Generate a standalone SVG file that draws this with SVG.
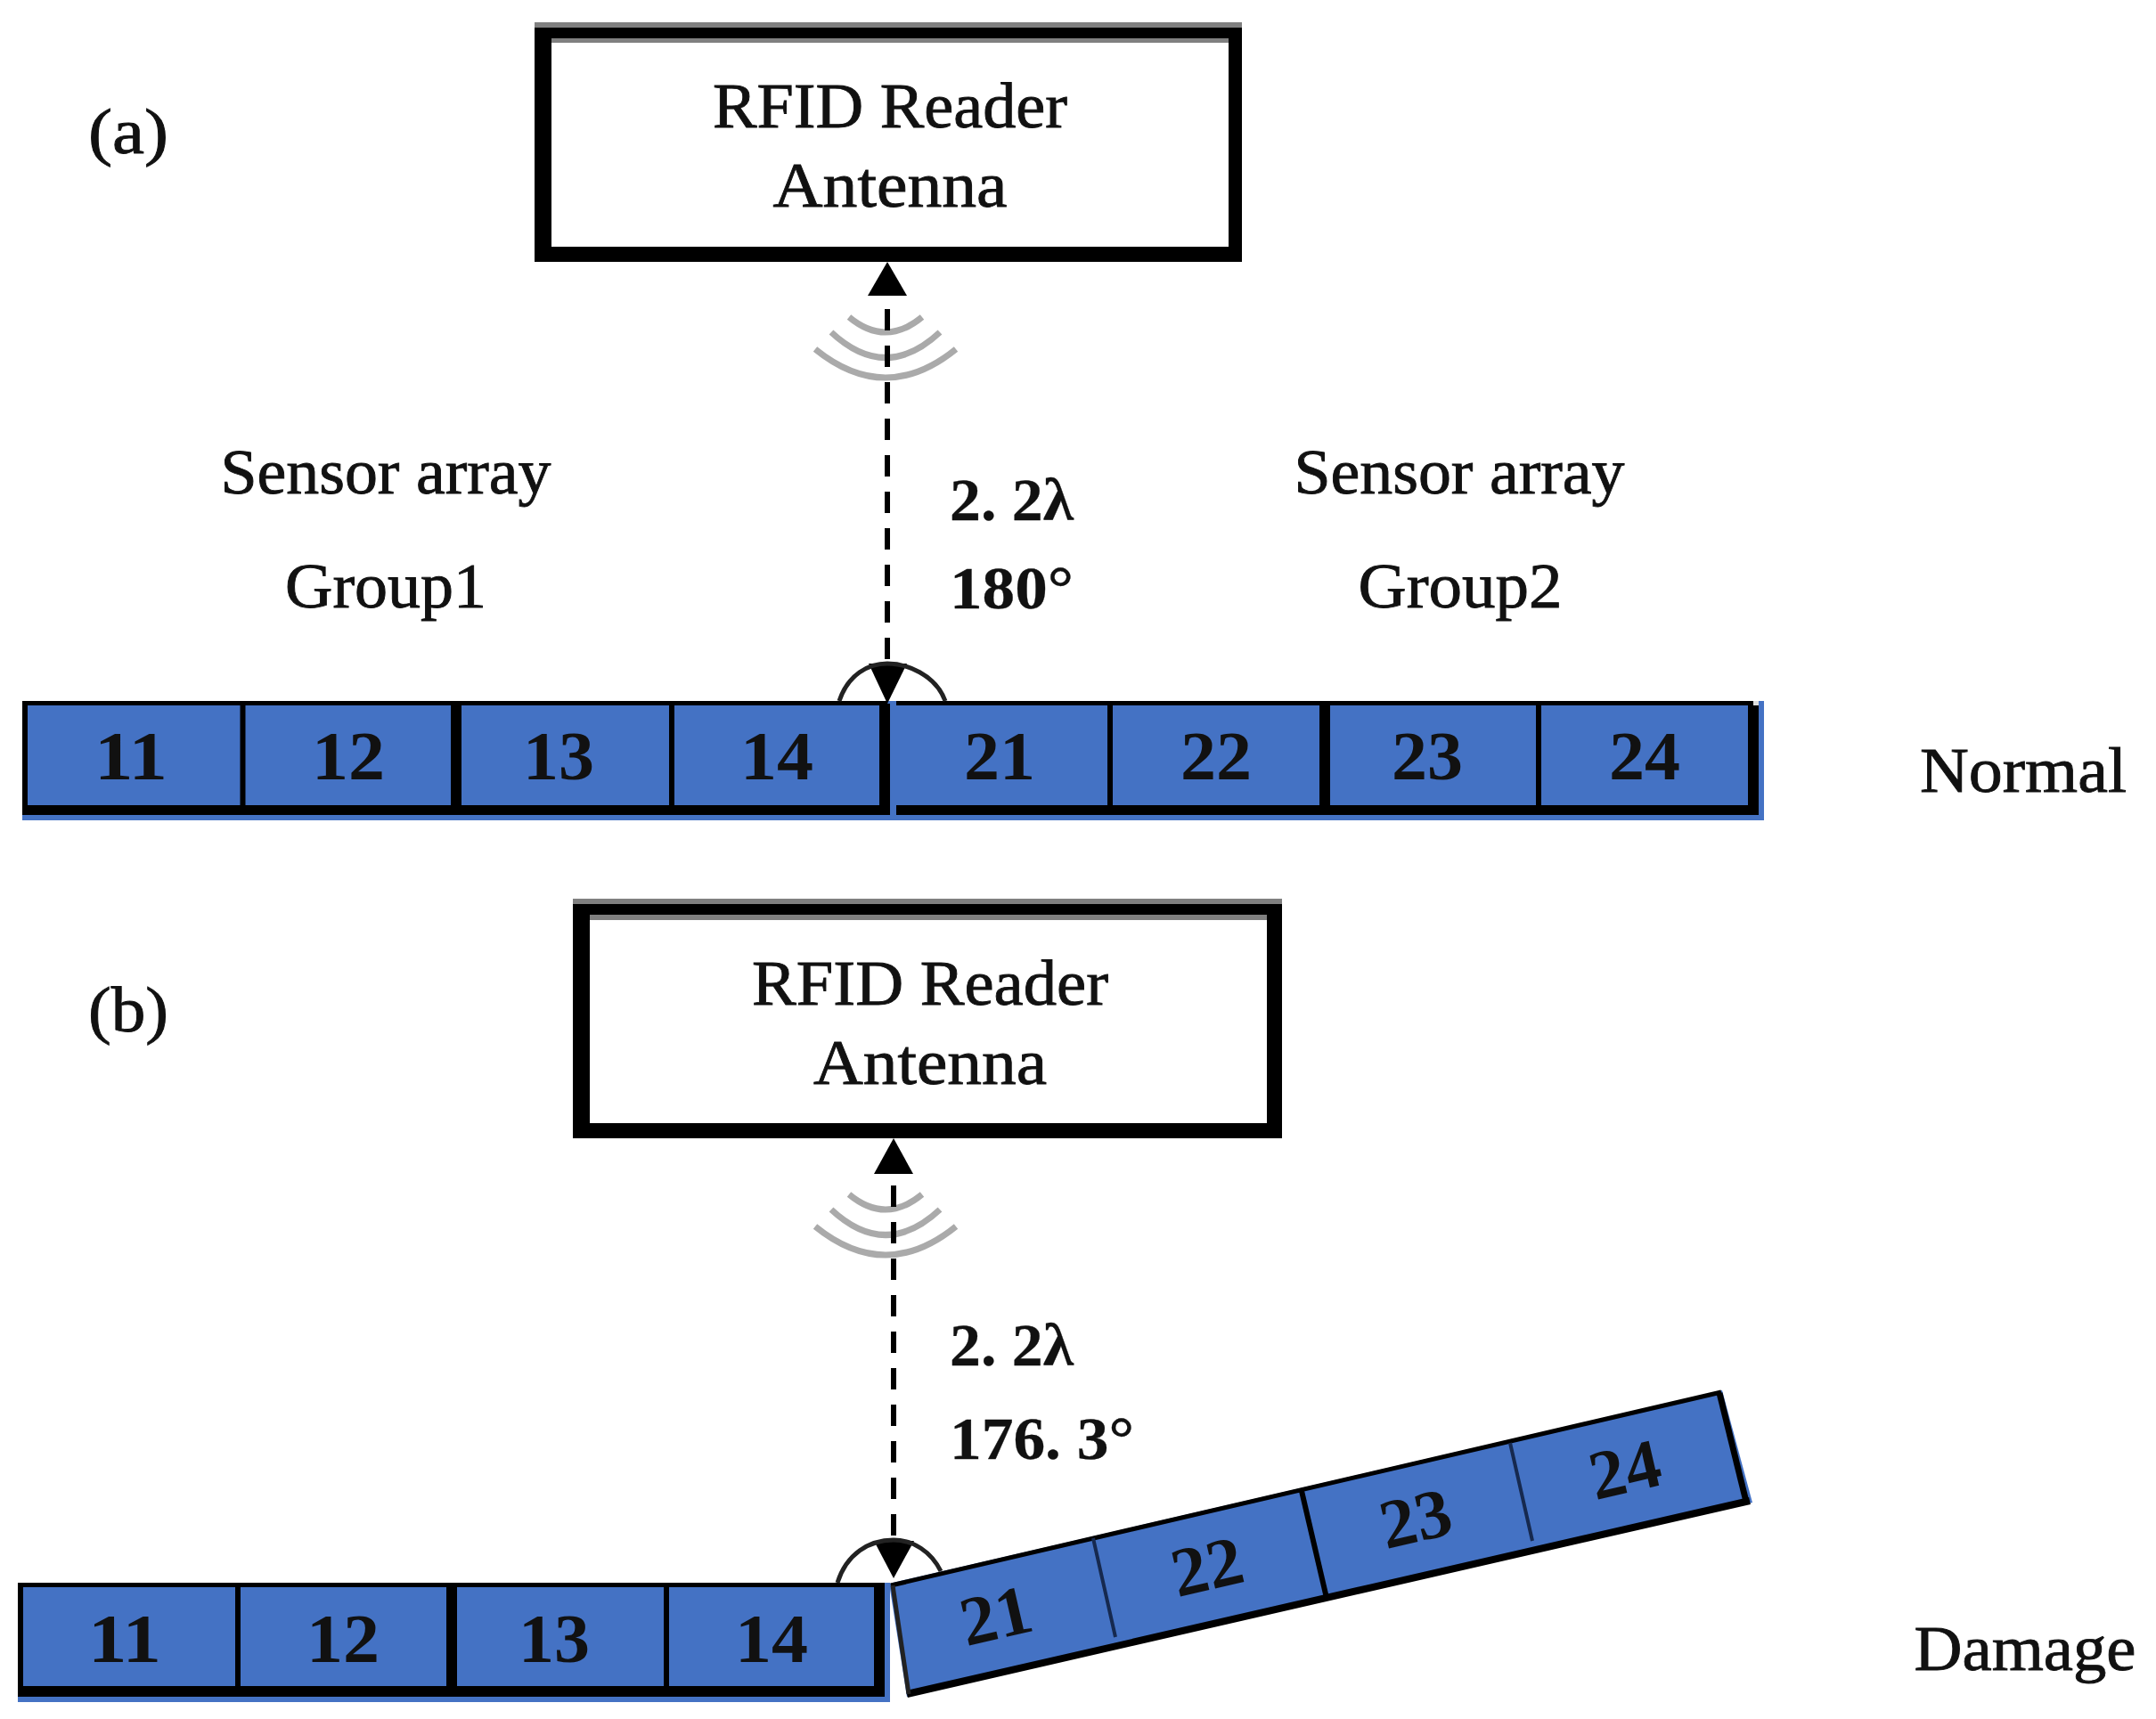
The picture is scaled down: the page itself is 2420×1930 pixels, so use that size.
<svg xmlns="http://www.w3.org/2000/svg" width="2420" height="1930" viewBox="0 0 2420 1930">
<defs>
<style>
text{font-family:"Liberation Serif","DejaVu Serif",serif;fill:#111;stroke:#111;stroke-width:.9px;font-size:72px;text-anchor:middle}
.b{font-weight:bold;font-size:68px;stroke-width:.3px}
.l{text-anchor:start}
.frame{fill:#000}
.inner{fill:#fff}
.band{fill:#808080}
.fill{fill:#4472c4}
.thick{stroke:#000;stroke-width:12;fill:none}
.thin{stroke:#000;stroke-width:6;fill:none}
.dash{stroke:#000;stroke-width:6;stroke-dasharray:24 17;fill:none}
.wave{stroke:#aaa;stroke-width:7;fill:none}
.arc{stroke:#222;stroke-width:5;fill:none}
.head{fill:#000}
.num{font-size:78px;font-weight:bold;stroke-width:0}
</style>
</defs>
<rect width="2420" height="1930" fill="#fff"/>

<g id="label-a"><text x="144" y="172" textLength="90" lengthAdjust="spacingAndGlyphs">(a)</text></g>
<g id="reader-a">
<rect class="frame" x="600" y="31" width="794" height="263"/>
<rect class="inner" x="619" y="43" width="760" height="234"/>
<rect class="band" x="600" y="25" width="794" height="6"/>
<rect class="band" x="619" y="43" width="760" height="5"/>
<text x="999" y="143" textLength="398" lengthAdjust="spacingAndGlyphs">RFID Reader</text>
<text x="999" y="232" textLength="263" lengthAdjust="spacingAndGlyphs">Antenna</text>
</g>
<g id="sensor-group1-label">
<text x="433" y="554" textLength="371" lengthAdjust="spacingAndGlyphs">Sensor array</text>
<text x="433" y="682" textLength="226" lengthAdjust="spacingAndGlyphs">Group1</text>
</g>
<g id="sensor-group2-label">
<text x="1638" y="554" textLength="371" lengthAdjust="spacingAndGlyphs">Sensor array</text>
<text x="1639" y="682" textLength="229" lengthAdjust="spacingAndGlyphs">Group2</text>
</g>
<g id="distance-a">
<text class="b l" x="1066" y="584" textLength="139" lengthAdjust="spacingAndGlyphs">2. 2λ</text>
<text class="b l" x="1066" y="683" textLength="139" lengthAdjust="spacingAndGlyphs">180°</text>
</g>

<g id="bar-a">
<rect class="fill" x="25" y="787" width="1955" height="134"/>
<path d="M25 789.500H996M1006 789.500H1968" stroke="#000" stroke-width="5" fill="none"/>
<rect x="1968" y="787" width="6" height="5" fill="#ddd"/>
<path d="M25 909.500H999M1006 909.500H1974" stroke="#000" stroke-width="11" fill="none"/>
<path d="M28 787V915" stroke="#000" stroke-width="6" fill="none"/>
<path class="thin" d="M272.500 790V912M754 790V912M1246 790V912M1727 790V912"/>
<path class="thick" d="M512 790V912M993 790V915M1487 790V912M1968 792V915"/>
</g>
<g id="cell-11a"><text class="num" x="147" y="875" textLength="82" lengthAdjust="spacingAndGlyphs">11</text></g>
<g id="cell-12a"><text class="num" x="391" y="875" textLength="82" lengthAdjust="spacingAndGlyphs">12</text></g>
<g id="cell-13a"><text class="num" x="627" y="875" textLength="80" lengthAdjust="spacingAndGlyphs">13</text></g>
<g id="cell-14a"><text class="num" x="872" y="875" textLength="82" lengthAdjust="spacingAndGlyphs">14</text></g>
<g id="cell-21a"><text class="num" x="1122" y="875" textLength="80" lengthAdjust="spacingAndGlyphs">21</text></g>
<g id="cell-22a"><text class="num" x="1365" y="875" textLength="80" lengthAdjust="spacingAndGlyphs">22</text></g>
<g id="cell-23a"><text class="num" x="1602" y="875" textLength="80" lengthAdjust="spacingAndGlyphs">23</text></g>
<g id="cell-24a"><text class="num" x="1846" y="875" textLength="80" lengthAdjust="spacingAndGlyphs">24</text></g>
<g id="state-normal"><text x="2271" y="889" textLength="232" lengthAdjust="spacingAndGlyphs">Normal</text></g>

<g id="label-b"><text x="144" y="1158" textLength="90" lengthAdjust="spacingAndGlyphs">(b)</text></g>
<g id="reader-b">
<rect class="frame" x="643" y="1015" width="796" height="263"/>
<rect class="inner" x="662" y="1027" width="760" height="234"/>
<rect class="band" x="643" y="1009" width="796" height="6"/>
<rect class="band" x="662" y="1027" width="760" height="6"/>
<text x="1044" y="1128" textLength="400" lengthAdjust="spacingAndGlyphs">RFID Reader</text>
<text x="1044" y="1217" textLength="262" lengthAdjust="spacingAndGlyphs">Antenna</text>
</g>
<g id="distance-b">
<text class="b l" x="1066" y="1533" textLength="139" lengthAdjust="spacingAndGlyphs">2. 2λ</text>
<text class="b l" x="1066" y="1638" textLength="207" lengthAdjust="spacingAndGlyphs">176. 3°</text>
</g>

<g id="bar-b-group1">
<rect class="fill" x="20" y="1777" width="979" height="134"/>
<path d="M20 1779.500H993" stroke="#000" stroke-width="5" fill="none"/>
<path d="M20 1899H993" stroke="#000" stroke-width="12" fill="none"/>
<path d="M23 1777V1905" stroke="#000" stroke-width="6" fill="none"/>
<path class="thin" d="M267 1780V1900M748 1780V1900"/>
<path class="thick" d="M507 1780V1900M987 1777V1905"/>
</g>
<g id="cell-11b"><text class="num" x="140" y="1866" textLength="82" lengthAdjust="spacingAndGlyphs">11</text></g>
<g id="cell-12b"><text class="num" x="385" y="1866" textLength="82" lengthAdjust="spacingAndGlyphs">12</text></g>
<g id="cell-13b"><text class="num" x="622" y="1866" textLength="80" lengthAdjust="spacingAndGlyphs">13</text></g>
<g id="cell-14b"><text class="num" x="866" y="1866" textLength="82" lengthAdjust="spacingAndGlyphs">14</text></g>

<g id="bar-b-group2">
<path class="fill" d="M998 1778L1933 1561L1967 1687L1018 1905Z"/>
<path d="M1000 1780L1932 1563" stroke="#000" stroke-width="5" fill="none"/>
<path d="M1018 1902L1964 1685" stroke="#000" stroke-width="8" fill="none"/>
<path d="M1002 1780L1020 1902" stroke="#222" stroke-width="5" fill="none"/>
<path d="M1930 1564L1960 1686" stroke="#000" stroke-width="7" fill="none"/>
<path d="M1227 1727L1252 1838M1695 1620L1720 1730" stroke="#16294f" stroke-width="4" fill="none"/>
<path d="M1461 1674L1489 1794" stroke="#000" stroke-width="6" fill="none"/>
</g>
<g id="cell-21b"><text class="num" transform="translate(1118 1814) rotate(-13)" y="26" textLength="80" lengthAdjust="spacingAndGlyphs">21</text></g>
<g id="cell-22b"><text class="num" transform="translate(1355 1759) rotate(-13)" y="26" textLength="80" lengthAdjust="spacingAndGlyphs">22</text></g>
<g id="cell-23b"><text class="num" transform="translate(1589 1705) rotate(-13)" y="26" textLength="80" lengthAdjust="spacingAndGlyphs">23</text></g>
<g id="cell-24b"><text class="num" transform="translate(1824 1650) rotate(-13)" y="26" textLength="80" lengthAdjust="spacingAndGlyphs">24</text></g>
<g id="state-damage"><text x="2273" y="1875" textLength="249" lengthAdjust="spacingAndGlyphs">Damage</text></g>

<g id="connectors">
<path class="wave" d="M953 356Q994 390 1035 356M933 373Q994 430 1055 373M915 392Q994 456 1073 392"/>
<path class="dash" d="M996 347V745"/>
<path class="head" d="M996 294L1018 332H974Z"/>
<path class="head" d="M975 745H1018L996 790Z"/>
<path class="arc" d="M942 787C952 757 975 745 996 745C1017 745 1050 757 1061 787"/>

<path class="wave" d="M953 1341Q994 1375 1035 1341M933 1358Q994 1415 1055 1358M915 1377Q994 1441 1073 1377"/>
<path class="dash" d="M1003 1331V1730"/>
<path class="head" d="M1003 1278L1025 1318H981Z"/>
<path class="head" d="M981 1730H1026L1003 1772Z"/>
<path class="arc" d="M940 1777C950 1745 975 1729 1003 1729C1025 1729 1045 1742 1056 1764"/>
</g>
</svg>
